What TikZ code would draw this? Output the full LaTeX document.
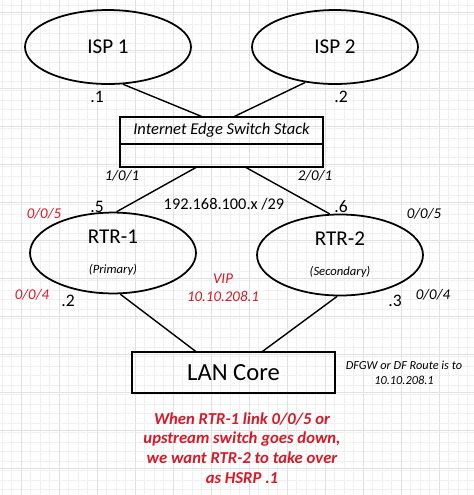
\documentclass[tikz,border=0pt]{standalone}
\usepackage{fontspec}
\setmainfont{Carlito}
\usepackage{tikz}
\usetikzlibrary{shapes.geometric, positioning, calc}
\definecolor{notered}{RGB}{215, 25, 40}
\definecolor{gridminor}{RGB}{240, 240, 240}
\definecolor{gridmajor}{RGB}{225, 225, 225}
\tikzstyle{site} = [ellipse, draw=black, line width=1pt, minimum width=3.32cm, minimum height=1.48cm, font=\fontsize{12}{14}\selectfont]
\tikzstyle{router} = [ellipse, draw=black, line width=1pt, minimum width=3.32cm, minimum height=1.6cm, align=center, font=\fontsize{12}{14}\selectfont]
\tikzstyle{device} = [rectangle, draw=black, line width=0.9pt, outer sep=0pt, minimum width=4.06cm, text centered]
\tikzstyle{link} = [line width=0.8pt]
\tikzstyle{addr} = [font=\fontsize{10}{12}\selectfont]
\tikzstyle{port} = [font=\itshape\fontsize{8.5}{10}\selectfont]

\begin{document}
\begin{tikzpicture}[x=0.02cm, y=-0.02cm]
    % Background grid
    \useasboundingbox[fill=white] (0,0) rectangle (474,495);
    \draw[gridminor, line width=0.3pt, shift={(2,5)}] (-10,-10) grid[step=0.19cm] (480,500);
    \draw[gridmajor, line width=0.4pt, shift={(21,12)}] (-40,-40) grid[step=0.76cm] (480,500);

    % Upstream providers
    \node[site] (isp1) at (108, 47) {ISP 1};
    \node[site] (isp2) at (335, 47) {ISP 2};

    % Edge switch stack
    \node[device, minimum height=0.54cm, font=\itshape\fontsize{9.4}{11}\selectfont] (switch) at (221.5, 130.5) {Internet Edge Switch Stack};
    \node[device, minimum height=0.46cm, anchor=north] (switchbase) at (switch.south) {};

    % Routers
    \node[router] (rtr1) at (113, 253) {RTR-1\\[3pt]{\itshape\fontsize{7.2}{8.5}\selectfont (Primary)}};
    \node[router] (rtr2) at (340, 255) {RTR-2\\[3pt]{\itshape\fontsize{7.2}{8.5}\selectfont (Secondary)}};

    % LAN core
    \node[device, minimum height=0.82cm, font=\fontsize{14}{16}\selectfont] (lan) at (233.5, 372.5) {LAN Core};

    % Links
    \draw[link] (isp1.-68) -- (switch.144);
    \draw[link] (isp2.-130) -- (switch.49);
    \draw[link] (switchbase.205) -- (rtr1.85);
    \draw[link] (switchbase.-26) -- (rtr2.104);
    \draw[link] (rtr1.-80) -- (lan.151);
    \draw[link] (rtr2.-94) -- (lan.36);

    % Addresses
    \node[addr] (a1) at (97, 97) {.1};
    \node[addr] (a2) at (341, 97) {.2};
    \node[addr] (a5) at (97, 207) {.5};
    \node[addr] (a6) at (341, 207) {.6};
    \node[addr] (a12) at (68, 301) {.2};
    \node[addr] (a13) at (395, 301) {.3};
    \node[font=\fontsize{9.3}{11}\selectfont] (subnet) at (224, 204) {192.168.100.x /29};

    % Ports
    \node[port] (p101) at (122, 176) {1/0/1};
    \node[port] (p201) at (315, 176) {2/0/1};
    \node[port, text=notered] (r1up) at (44, 214) {0/0/5};
    \node[port, text=notered] (r1down) at (32, 295) {0/0/4};
    \node[port] (r2up) at (424, 214) {0/0/5};
    \node[port] (r2down) at (433, 295) {0/0/4};

    % Virtual IP
    \node[port, text=notered, align=center] (vip) at (223, 288) {VIP\\10.10.208.1};

    % Notes
    \node[font=\itshape\fontsize{7}{8.4}\selectfont, align=center] (dfgw) at (404, 373) {DFGW or DF Route is to\\10.10.208.1};
    \node[font=\bfseries\itshape\fontsize{9.5}{11.3}\selectfont, text=notered, align=center] (note) at (242, 448) {When RTR-1 link 0/0/5 or\\upstream switch goes down,\\we want RTR-2 to take over\\as HSRP .1};
\end{tikzpicture}
\end{document}
